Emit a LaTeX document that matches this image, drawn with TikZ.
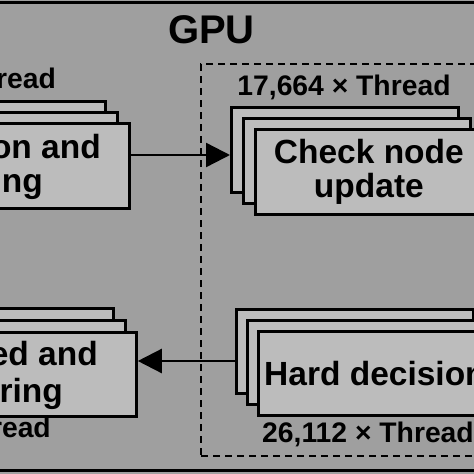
\documentclass[tikz,border=0pt]{standalone}
\usepackage{fontspec}
\setmainfont{Liberation Sans}
\usetikzlibrary{arrows.meta}
\definecolor{bggray}{RGB}{159,159,159}
\definecolor{boxgray}{RGB}{188,188,188}
\begin{document}
\begin{tikzpicture}[x=1pt,y=-1pt,
  card/.style={draw=black, fill=boxgray, line width=2.8pt, inner sep=0pt, anchor=north west},
  boxtext/.style={font=\fontsize{33.5}{34}\selectfont\bfseries, inner sep=0pt, align=center},
  threadlbl/.style={font=\fontsize{28.3}{30}\selectfont\bfseries, inner sep=0pt},
  flow/.style={line width=2.4pt, -{Triangle[length=24pt,width=24pt]}},
  group/.style={draw=black, dash pattern=on 7pt off 5pt, line width=2pt, inner sep=0pt, anchor=north west},
  frame/.style={draw=black, line width=2.5pt, inner sep=0pt, anchor=north west}]
\useasboundingbox (0,0) rectangle (474,474);
\clip (0,0) rectangle (474,474);
\fill[bggray] (0,0) rectangle (474,474);
% outer GPU frame
\node[frame, minimum width=540pt, minimum height=468pt] (outer) at (-30,1) {};
\node[anchor=base, font=\fontsize{40}{44}\selectfont\bfseries, inner sep=0pt] (gpu) at (211.5,43) {GPU};
% dashed group
\node[group, minimum width=290pt, minimum height=392pt] (grp) at (200,63) {};
% top-left stack
\node[card, minimum width=200pt, minimum height=85pt] (tlb) at (-96,100) {};
\node[card, minimum width=200pt, minimum height=85pt] (tlm) at (-84,111) {};
\node[card, minimum width=200pt, minimum height=85pt] (tlf) at (-72,122) {};
\node[boxtext, anchor=base east] (tl1) at (101,158) {on and};
\node[boxtext, anchor=base east] (tl2) at (43,192) {ng};
\node[threadlbl, anchor=base east] (tlt) at (56,88) {read};
% top-right stack
\node[card, minimum width=227pt, minimum height=85pt] (trb) at (230,106) {};
\node[card, minimum width=227pt, minimum height=85pt] (trm) at (242,117) {};
\node[card, minimum width=227pt, minimum height=85pt] (trf) at (254,128) {};
\node[boxtext] (trtext) at (trf.center) {Check node\\update};
\node[threadlbl, anchor=base] (trt) at (344,95) {17,664 × Thread};
% bottom-right stack
\node[card, minimum width=237pt, minimum height=84pt] (brb) at (235,308) {};
\node[card, minimum width=237pt, minimum height=84pt] (brm) at (246,319) {};
\node[card, minimum width=237pt, minimum height=84pt] (brf) at (257,330) {};
\node[boxtext, anchor=base west] (brtext) at (264,385) {Hard decision};
\node[threadlbl, anchor=base west] (brt) at (262,442) {26,112 × Thread};
% bottom-left stack
\node[card, minimum width=200pt, minimum height=84pt] (blb) at (-88,307) {};
\node[card, minimum width=200pt, minimum height=84pt] (blm) at (-76,319) {};
\node[card, minimum width=200pt, minimum height=84pt] (blf) at (-65,331) {};
\node[boxtext, anchor=base east] (bl1) at (98,365) {ed and};
\node[boxtext, anchor=base east] (bl2) at (63,402) {ring};
\node[threadlbl, anchor=base east] (blt) at (51,437) {read};
% connectors
\coordinate (row1) at (0,155);
\coordinate (row2) at (0,361);
\draw[flow] (tlf.east |- row1) -- (trb.west |- row1);
\draw[flow] (brb.west |- row2) -- (blf.east |- row2);
\end{tikzpicture}
\end{document}
